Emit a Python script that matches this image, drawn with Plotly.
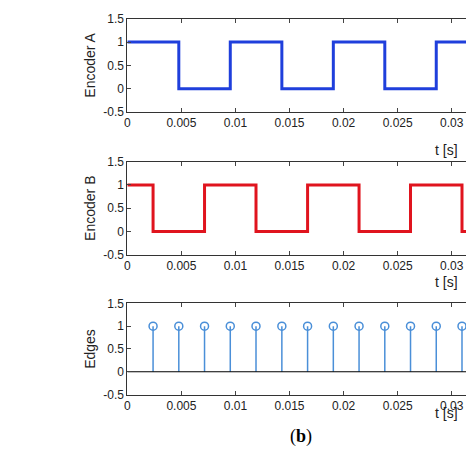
import plotly.graph_objects as go

t_end = 0.0328
tA = [0, 0.00476, 0.00952, 0.01429, 0.01905, 0.02381, 0.02857, t_end]
vA = [1, 0, 1, 0, 1, 0, 1, 1]
tB = [0, 0.00238, 0.00714, 0.01190, 0.01667, 0.02143, 0.02619, 0.03095, t_end]
vB = [1, 0, 1, 0, 1, 0, 1, 0, 0]
tE = [0.00238, 0.00476, 0.00714, 0.00952, 0.01190, 0.01429, 0.01667,
      0.01905, 0.02143, 0.02381, 0.02619, 0.02857, 0.03095]
vE = [1] * len(tE)
xticks = [0, 0.005, 0.01, 0.015, 0.02, 0.025, 0.03]
xticktext = ["0", "0.005", "0.01", "0.015", "0.02", "0.025", "0.03"]
yticks = [-0.5, 0, 0.5, 1, 1.5]
yticktext = ["-0.5", "0", "0.5", "1", "1.5"]

fig = go.Figure()
fig.add_trace(go.Scatter(x=tA, y=vA, mode="lines", line=dict(color="#1f3fdc", width=3, shape="hv"), xaxis="x", yaxis="y"))
fig.add_trace(go.Scatter(x=tB, y=vB, mode="lines", line=dict(color="#e0141e", width=3, shape="hv"), xaxis="x2", yaxis="y2"))
sx, sy = [], []
for t, v in zip(tE, vE):
    sx += [t, t, None]
    sy += [0, v, None]
fig.add_trace(go.Scatter(x=sx, y=sy, mode="lines", line=dict(color="#4a8fd8", width=1.5), xaxis="x3", yaxis="y3"))
fig.add_trace(go.Scatter(x=[0, t_end], y=[0, 0], mode="lines", line=dict(color="black", width=1.2), xaxis="x3", yaxis="y3"))
fig.add_trace(go.Scatter(x=tE, y=vE, mode="markers", marker=dict(symbol="circle-open", size=8, color="#4a8fd8", line=dict(width=1.5)), xaxis="x3", yaxis="y3"))

font = dict(family="Liberation Sans, Arial", size=12, color="#222")
domains = [[0.789, 0.992], [0.479, 0.681], [0.175, 0.373]]
title_y = [0.728, 0.420, 0.114]
names = ["Encoder A", "Encoder B", "Edges"]
layout = dict(showlegend=False, width=474, height=474, margin=dict(l=0, r=0, t=0, b=0),
              plot_bgcolor="white", paper_bgcolor="white", font=font)
for i in range(3):
    s = "" if i == 0 else str(i + 1)
    layout["xaxis" + s] = dict(domain=[0.247, 1], range=[0, t_end], anchor="y" + s,
        tickvals=xticks, ticktext=xticktext, ticks="inside", ticklen=4, showline=True,
        linecolor="#333", mirror="ticks", showgrid=False, zeroline=False)
    layout["yaxis" + s] = dict(domain=domains[i], range=[-0.5, 1.5], anchor="x" + s,
        tickvals=yticks, ticktext=yticktext, ticks="inside", ticklen=4, showline=True,
        linecolor="#333", showgrid=False, zeroline=False,
        title=dict(text=names[i], font=dict(size=14), standoff=4))
    fig.add_annotation(text="t [s]", x=0.0295, y=title_y[i], xref="x" + s, yref="paper",
                       showarrow=False, font=dict(size=14, color="#222"))
fig.update_layout(**layout)
fig.add_annotation(text="(<b>b</b>)", x=0.616, y=0.057, xref="paper", yref="paper",
                   showarrow=False, font=dict(family="Liberation Serif, Times New Roman", size=18, color="black"))
fig.write_html("out.html")
